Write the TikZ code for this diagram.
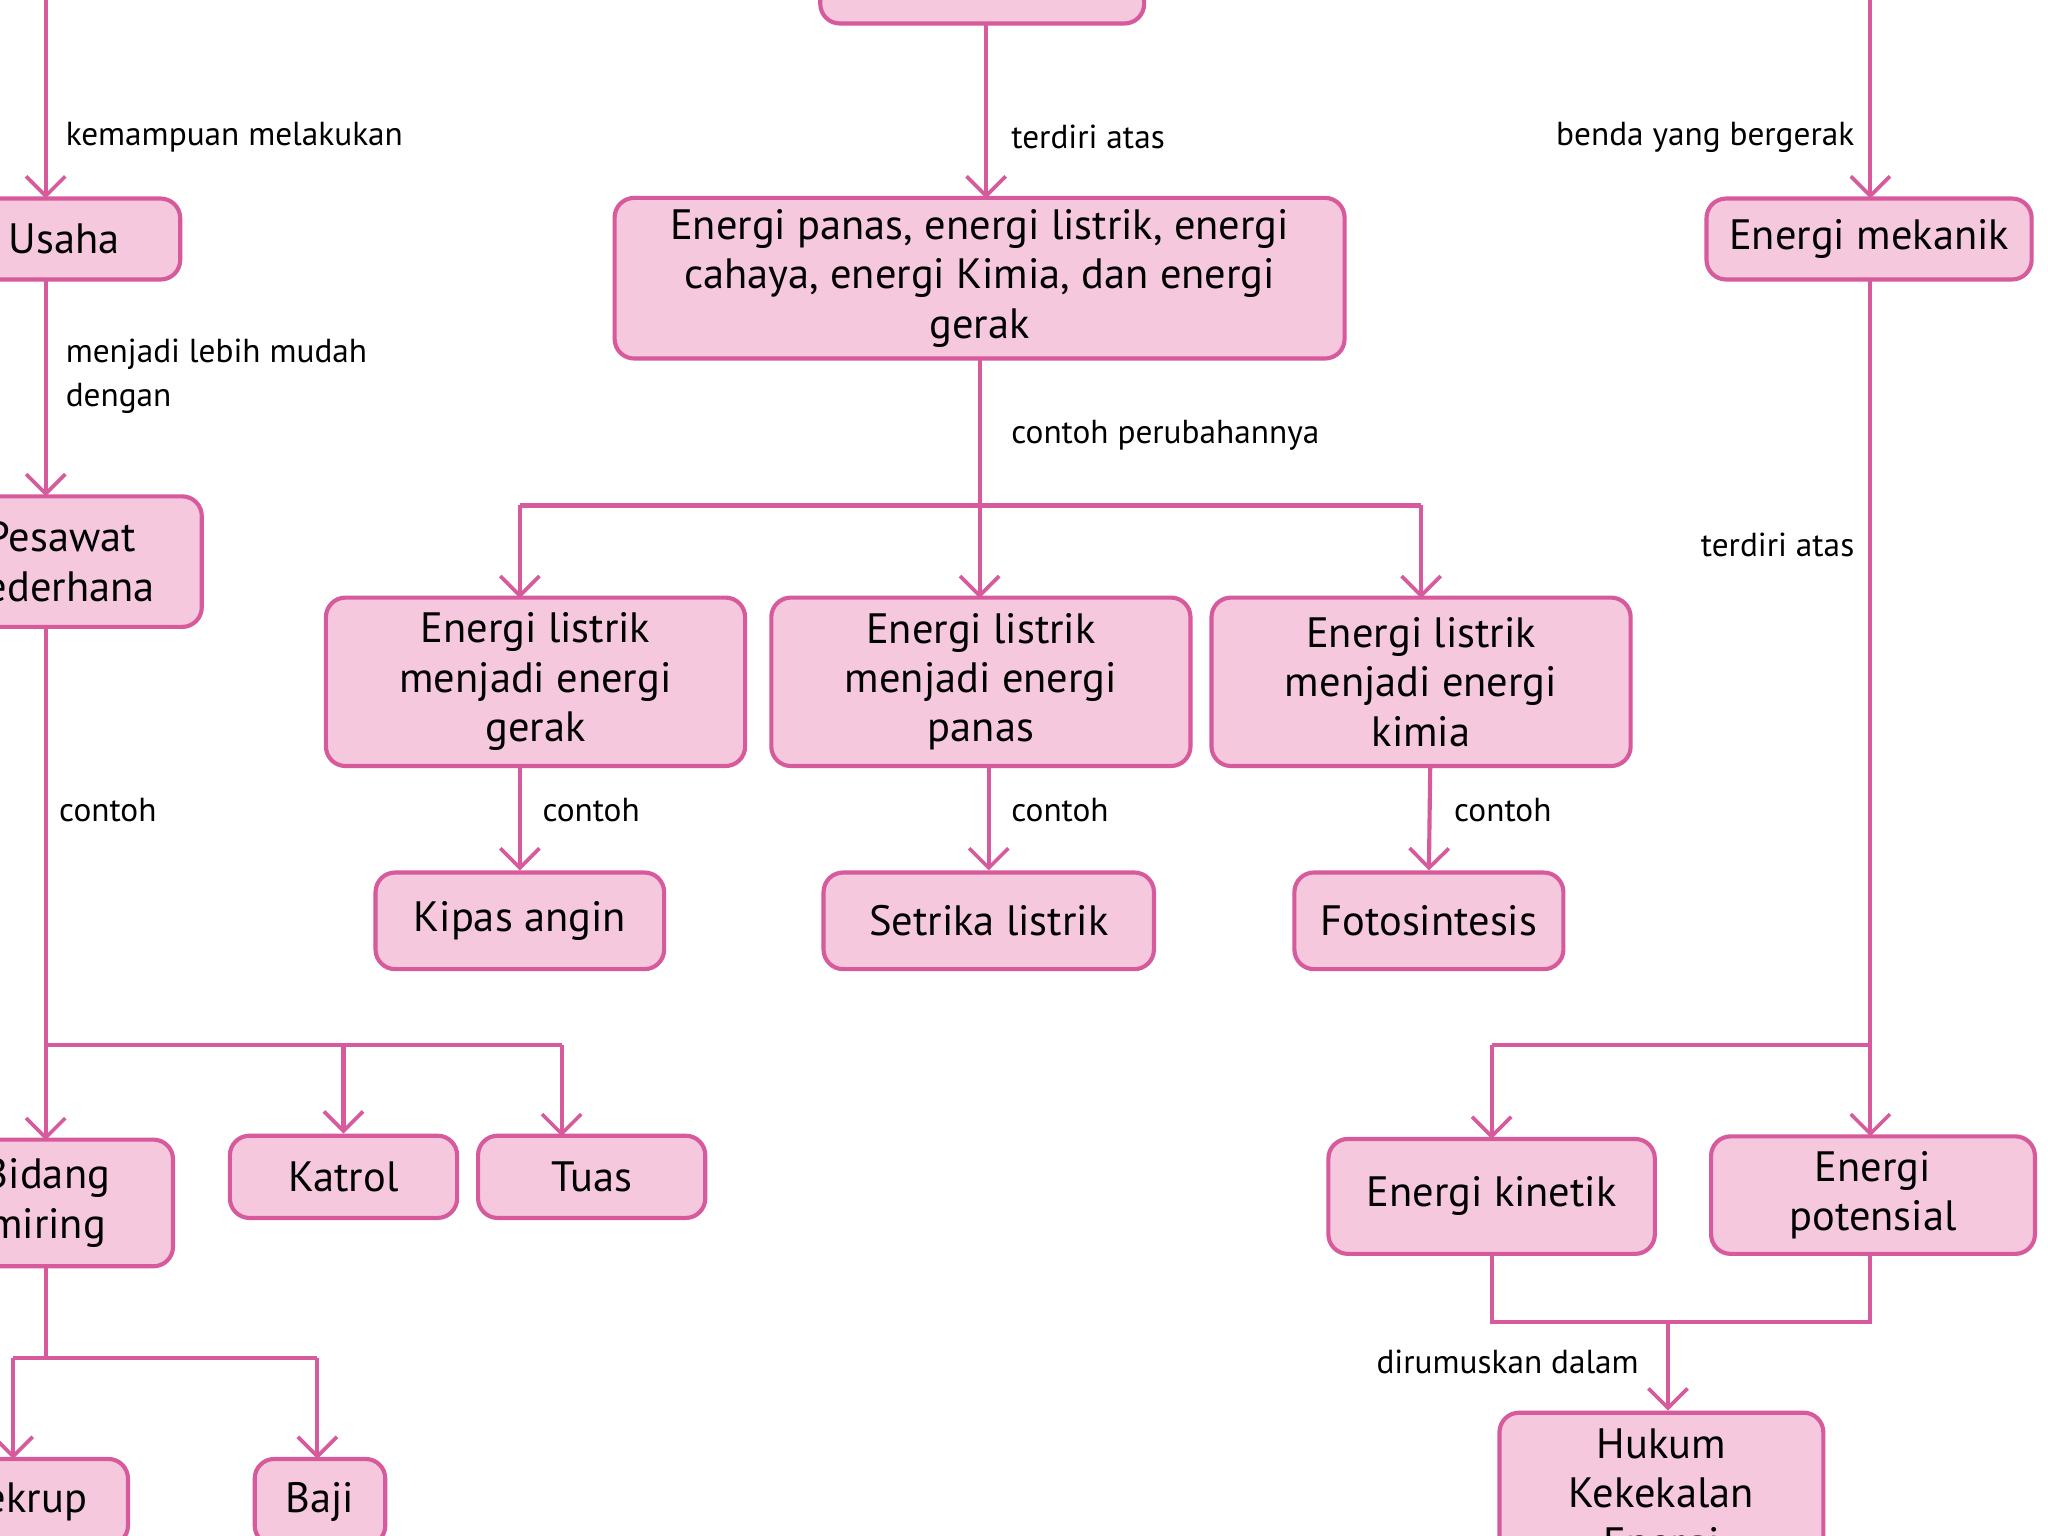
\documentclass[tikz,border=0pt]{standalone}
\usepackage{fontspec}
\setmainfont{PT Sans}
\usetikzlibrary{arrows.meta}
\definecolor{pk}{HTML}{D65A9C}
\definecolor{pf}{HTML}{F5C8DE}
\begin{document}
\begin{tikzpicture}[x=0.02cm,y=-0.02cm,
 box/.style={draw=pk,fill=pf,line width=1.8pt,rounded corners=0.3cm,align=center,font=\fontsize{18.5}{21.5}\selectfont,inner sep=2pt},
 ln/.style={draw=pk,line width=1.8pt},
 ar/.style={ln,-{Straight Barb[length=3mm,width=6mm,line width=1.6pt]}},
 lb/.style={font=\fontsize{14.5}{19}\selectfont,anchor=west,align=left,inner sep=0pt}]
\useasboundingbox (0,0) rectangle (1568,1176);
\clip (0,0) rectangle (1568,1176);
\fill[white] (0,0) rectangle (1568,1176);
% nodes
\node[box,minimum width=4.96cm,minimum height=1.16cm] (top) at (752,-11) {};
\node[box,minimum width=3.56cm,minimum height=1.24cm] (usaha) at (49,183) {Usaha};
\node[box,minimum width=4.3cm,minimum height=2cm] (pes) at (47,430) {Pesawat\\sederhana};
\node[box,minimum width=3.86cm,minimum height=1.94cm] (bid) at (36,921) {Bidang\\miring};
\node[box,minimum width=3.16cm,minimum height=1.32cm] (sek) at (19,1150) {Sekrup};
\node[box,minimum width=2cm,minimum height=1.32cm] (baji) at (245,1150) {Baji};
\node[box,minimum width=3.48cm,minimum height=1.26cm] (kat) at (263,901) {Katrol};
\node[box,minimum width=3.48cm,minimum height=1.26cm] (tuas) at (453,901) {Tuas};
\node[box,minimum width=11.18cm,minimum height=2.46cm] (big) at (750,213) {Energi panas, energi listrik, energi\\cahaya, energi Kimia, dan energi\\gerak};
\node[box,minimum width=6.42cm,minimum height=2.58cm] (e1) at (410,522) {Energi listrik\\menjadi energi\\gerak};
\node[box,minimum width=6.42cm,minimum height=2.58cm] (e2) at (751,522) {Energi listrik\\menjadi energi\\panas};
\node[box,minimum width=6.42cm,minimum height=2.58cm] (e3) at (1088,522) {Energi listrik\\menjadi energi\\kimia};
\node[box,minimum width=4.42cm,minimum height=1.48cm] (kip) at (398,705) {Kipas angin};
\node[box,minimum width=5.06cm,minimum height=1.48cm] (set) at (757,705) {Setrika listrik};
\node[box,minimum width=4.12cm,minimum height=1.48cm] (fot) at (1094,705) {Fotosintesis};
\node[box,minimum width=4.98cm,minimum height=1.24cm] (mek) at (1431,183) {Energi mekanik};
\node[box,minimum width=5cm,minimum height=1.76cm] (kin) at (1142,916) {Energi kinetik};
\node[box,minimum width=4.96cm,minimum height=1.8cm] (pot) at (1434,915) {Energi\\potensial};
\node[box,minimum width=4.96cm,minimum height=2.6cm,anchor=north] (huk) at (1272,1080) {Hukum\\Kekekalan\\Energi};
% left connectors
\coordinate (l0) at (35,0);
\draw[ar] (l0) -- (35,152);
\draw[ar] (35,214) -- (35,380);
\draw[ln] (35,480) -- (35,800) -- (430,800);
\draw[ar] (35,800) -- (35,873);
\draw[ar] (263,800) -- (kat.north);
\draw[ar] (430,800) -- (430,870);
\draw[ln] (35,970) -- (35,1040);
\draw[ln] (10,1040) -- (243,1040);
\draw[ar] (10,1040) -- (10,1117);
\draw[ar] (243,1040) -- (243,1117);
\node[lb] at (50,105) {kemampuan melakukan};
\node[lb] at (50,288) {menjadi lebih mudah\\dengan};
\node[lb] at (45,620) {contoh};
% center
\draw[ar] (755,18) -- (755,152);
\draw[ln] (750,275) -- (750,387);
\draw[ln] (398,387) -- (1088,387);
\draw[ar] (398,387) -- (398,458);
\draw[ar] (750,387) -- (750,458);
\draw[ar] (1088,387) -- (1088,458);
\draw[ar] (398,587) -- (kip.north);
\draw[ar] (757,587) -- (set.north);
\draw[ar] (1095,587) -- (fot.north);
\node[lb] at (774,105) {terdiri atas};
\node[lb] at (774,333) {contoh perubahannya};
\node[lb] at (415,620) {contoh};
\node[lb] at (774,620) {contoh};
\node[lb] at (1113,620) {contoh};
% right
\coordinate (r0) at (1432,0);
\draw[ar] (r0) -- (1432,152);
\draw[ar] (1432,214) -- (1432,870);
\draw[ln] (1142,800) -- (1432,800);
\draw[ar] (1142,800) -- (1142,872);
\draw[ln] (1142,960) -- (1142,1012) -- (1432,1012) -- (1432,960);
\draw[ar] (1277,1012) -- (1277,1080);
\node[lb,anchor=east] at (1420,105) {benda yang bergerak};
\node[lb,anchor=east] at (1420,417) {terdiri atas};
\node[lb,anchor=east] at (1255,1043) {dirumuskan dalam};
\end{tikzpicture}
\end{document}
